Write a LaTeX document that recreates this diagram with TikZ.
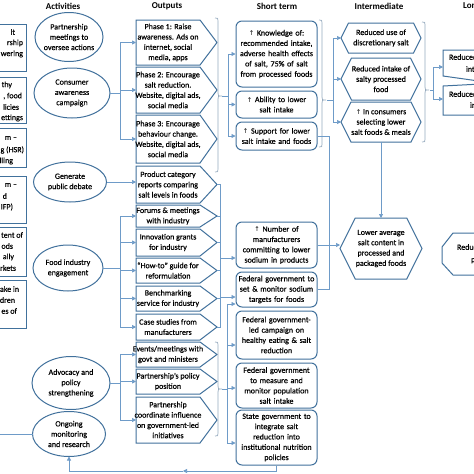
\documentclass[tikz,border=0pt]{standalone}
\usepackage{fontspec}
\setmainfont{Carlito}
\newfontfamily\bodyfam{Carlito}[FakeBold=0.4]
\newfontfamily\symf{DejaVu Sans}
\usetikzlibrary{arrows.meta}
\definecolor{boxc}{RGB}{65,113,156}
\definecolor{linec}{RGB}{110,155,200}
\definecolor{bracec}{RGB}{150,170,190}
\newcommand\bodyf{\bodyfam\fontsize{8}{10.3}\selectfont}
\newcommand\upa{{\symf\fontsize{6.5}{8}\selectfont ↑}}
\tikzset{
  frm/.style={draw=none, rectangle, inner sep=0pt, outer sep=0pt},
  txt/.style={inner sep=0pt, outer sep=0pt, align=center, font=\bodyf, text=black},
  box/.style={draw=boxc, line width=1pt, fill=white},
  conn/.style={draw=linec, line width=0.7pt},
  arr/.style={conn, -{Triangle[length=4pt,width=4pt]}},
  brc/.style={draw=bracec, line width=0.7pt},
  rbox/.style={draw=boxc, line width=1pt, fill=white, rounded corners=6pt, rectangle,
    minimum width=81, inner xsep=1pt, inner ysep=0pt, text width=79, align=center, font=\bodyf},
  hdr/.style={inner sep=0pt, font=\fontsize{9}{11}\selectfont\bfseries}
}
\newcommand\actnode[6]{%
  \node[frm, minimum width={2*#4}, minimum height={2*#5}] (#1) at (#2,#3) {};
  \draw[box] (#1.center) ellipse [x radius=#4pt, y radius=#5pt];
  \node[txt] (#1t) at (#1.center) {#6};}
\newcommand\outp[4]{%
  \node[frm, minimum width=81, minimum height={#3-#2}] (#1) at (176.5,{(#2+#3)/2}) {};
  \draw[box] (#1.north west) -- ([xshift=-17]#1.north east) -- (#1.east) -- ([xshift=-17]#1.south east) -- (#1.south west) -- cycle;
  \node[txt] (#1t) at ([xshift=-8.5]#1.center) {#4};}
\newcommand\hexnode[6]{%
  \node[frm, minimum width=#5, minimum height={#4-#3}] (#1) at (#2,{(#3+#4)/2}) {};
  \pgfmathsetmacro\hexd{(#4-#3)/4}
  \draw[box] (#1.west) -- ([xshift=\hexd]#1.north west) -- ([xshift=-\hexd]#1.north east) -- (#1.east) -- ([xshift=-\hexd]#1.south east) -- ([xshift=\hexd]#1.south west) -- cycle;
  \node[txt] (#1t) at (#1.center) {#6};}
\newcommand\bracepath[4]{%
  \draw[brc] (#1-3,#2) .. controls (#1,#2) .. (#1,#2+3) -- (#1,#3-3) .. controls (#1,#3) .. (#1+4,#3)
    .. controls (#1,#3) .. (#1,#3+3) -- (#1,#4-3) .. controls (#1,#4) .. (#1-3,#4);}
\begin{document}
\begin{tikzpicture}[x=1pt,y=-1pt]
\useasboundingbox (0,0) rectangle (474,474);
\clip (0,0) rectangle (474,474);
\fill[white] (0,0) rectangle (474,474);

% headings
\node[hdr] (h1) at (63,6) {Activities};
\node[hdr] (h2) at (167,6) {Outputs};
\node[hdr] (h3) at (277,6) {Short term};
\node[hdr] (h4) at (379,6) {Intermediate};
\node[hdr, anchor=west] (h5) at (463,6) {Long term};

% left column (clipped)
\draw[box] (-30,24) rectangle (26,71);
\draw[box] (-30,77) rectangle (26,123);
\draw[box] (-30,128) rectangle (26,167);
\draw[box] (-30,176) rectangle (26,223);
\draw[box] (-30,227) rectangle (26,276);
\draw[box] (-30,280) rectangle (26,328);
\node[txt, anchor=east] (la1) at (15,32) {lt};
\node[txt, anchor=east] (la2) at (23,43) {rship};
\node[txt, anchor=east] (la3) at (23,54) {wering};
\node[txt, anchor=east] (lb1) at (12,85) {thy};
\node[txt, anchor=east] (lb2) at (22,96) {, food};
\node[txt, anchor=east] (lb3) at (19,107) {licies};
\node[txt, anchor=east] (lb4) at (23,118) {ettings};
\node[txt, anchor=east] (lc1) at (17,138) {m –};
\node[txt, anchor=east] (lc2) at (24,150) {g (HSR)};
\node[txt, anchor=east] (lc3) at (13,161) {lling};
\node[txt, anchor=east] (ld1) at (17,185) {m –};
\node[txt, anchor=east] (ld2) at (7,196) {d};
\node[txt, anchor=east] (ld3) at (13,207) {IFP)};
\node[txt, anchor=east] (le1) at (23,235) {tent of};
\node[txt, anchor=east] (le2) at (13,246) {ods};
\node[txt, anchor=east] (le3) at (14,257) {ally};
\node[txt, anchor=east] (le4) at (16,268) {rkets};
\node[txt, anchor=east] (lf1) at (19,289) {ake in};
\node[txt, anchor=east] (lf2) at (15,300) {dren};
\node[txt, anchor=east] (lf3) at (17,311) {es of};

% activities
\actnode{e1}{69}{37}{34}{24.5}{Partnership\\meetings to\\oversee actions}
\actnode{e2}{72}{93}{38}{25}{Consumer\\awareness\\campaign}
\actnode{e3}{70}{182}{36.5}{20}{Generate\\public debate}
\actnode{e4}{68}{268}{35}{23}{Food industry\\engagement}
\actnode{e5}{71}{383}{39}{26.5}{Advocacy and\\policy\\strengthening}
\actnode{e6}{69}{434}{36.5}{22.5}{Ongoing\\monitoring\\and research}

% outputs
\outp{o1}{20}{65}{Phase 1: Raise\\awareness. Ads on\\internet, social\\media, apps}
\outp{o2}{67}{113}{Phase 2: Encourage\\salt reduction.\\Website, digital ads,\\social media}
\outp{o3}{115}{163}{Phase 3: Encourage\\behaviour change.\\Website, digital ads,\\social media}
\outp{o4}{166}{203}{Product category\\reports comparing\\salt levels in foods}
\outp{o5}{205}{227}{Forums \& meetings\\with industry}
\outp{o6}{229}{256}{Innovation grants\\for industry}
\outp{o7}{258}{283}{“How-to” guide for\\reformulation}
\outp{o8}{286}{311}{Benchmarking\\service for industry}
\outp{o9}{314}{340}{Case studies from\\manufacturers}
\outp{o10}{342}{367}{Events/meetings with\\govt and ministers}
\outp{o11}{369}{394}{Partnership’s policy\\position}
\outp{o12}{397}{443}{Partnership\\coordinate influence\\on government-led\\initiatives}

% short term
\node[rbox, minimum height=66] (s1) at (276.5,54) {\upa{} Knowledge of:\\recommended intake,\\adverse health effects\\of salt, 75\% of salt\\from processed foods};
\node[rbox, minimum height=27] (s2) at (276.5,104.5) {\upa{} Ability to lower\\salt intake};
\node[rbox, minimum height=28] (s3) at (276.5,136) {\upa{} Support for lower\\salt intake and foods};
\node[rbox, minimum height=46] (s4) at (276.5,245) {\upa{} Number of\\manufacturers\\committing to lower\\sodium in products};
\node[rbox, minimum height=35] (s5) at (276.5,289.5) {Federal government to\\set \& monitor sodium\\targets for foods};
\node[rbox, minimum height=48] (s6) at (276.5,335) {Federal government-\\led campaign on\\healthy eating \& salt\\reduction};
\node[rbox, minimum height=45] (s7) at (276.5,385.5) {Federal government\\to measure and\\monitor population\\salt intake};
\node[rbox, minimum height=55] (s8) at (276.5,437.5) {State government to\\integrate salt\\reduction into\\institutional nutrition\\policies};

% intermediate
\hexnode{i1}{381}{23}{53}{80}{Reduced use of\\discretionary salt}
\hexnode{i2}{381}{58}{100}{80}{Reduced intake of\\salty processed\\food}
\hexnode{i3}{381}{102}{142}{80}{\upa{} In consumers\\selecting lower\\salt foods \& meals}
\hexnode{low}{381}{218}{279}{82}{Lower average\\salt content in\\processed and\\packaged foods}

% long term (clipped)
\node[frm, minimum width=57, minimum height=34, anchor=north west] (l1) at (443,50) {};
\draw[box] (l1.north west) -- (l1.north east) -- (l1.south east) -- ([yshift=8]l1.south west) -- cycle;
\node[txt, anchor=west] (l1a) at (449,57) {Reduced salt};
\node[txt, anchor=west] (l1b) at (466,69) {intake};
\node[frm, minimum width=57, minimum height=32, anchor=north west] (l2) at (443,83) {};
\draw[box] ([yshift=-3]l2.north west) -- (l2.north east) -- (l2.south east) -- (l2.south west) -- cycle;
\node[txt, anchor=west] (l2a) at (449,94) {Reduced salt};
\node[txt, anchor=west] (l2b) at (470,105) {intake};
\node[frm, minimum width=58, minimum height=42, anchor=north west] (r1) at (442,233) {};
\draw[box] ([yshift=-14]r1.north west) -- ([xshift=11]r1.north west) -- (r1.north east) -- (r1.south east) -- ([xshift=11]r1.south west) -- ([yshift=12]r1.south west) -- cycle;
\node[txt, anchor=west] (r1a) at (457,247) {Reduced};
\node[txt, anchor=west] (r1b) at (471,260) {population};

% activities -> outputs
\coordinate (j1) at (120,93);
\draw[conn] (e2.east) -- (j1);
\draw[arr] (j1) |- (o1.west);
\draw[arr] (j1) |- (o2.west);
\draw[arr] (j1) |- (o3.west);
\draw[arr] (e3.east) -- (e3.east -| o4.west);
\coordinate (j2) at (120,268);
\draw[conn] (e4.east) -- (j2);
\draw[arr] (j2) |- (o5.west);
\draw[arr] (j2) |- (o6.west);
\draw[arr] (j2) |- (o7.west);
\draw[arr] (j2) |- (o8.west);
\draw[arr] (j2) |- (o9.west);
\coordinate (j3) at (120,383);
\draw[conn] (e5.east) -- (j3);
\draw[arr] (j3) |- (o10.west);
\draw[arr] (j3) |- (o11.west);
\draw[arr] (j3) |- (o12.west);

% outputs -> short term
\bracepath{218}{18}{96}{172}
\coordinate (b1) at (222,96);
\coordinate (k1) at (228,96);
\draw[conn] (b1) -- (k1);
\draw[arr] (k1) |- (s1.west);
\draw[arr] (k1) |- (s2.west);
\draw[arr] (k1) |- (s3.west);

\coordinate (q4) at ([xshift=3]o4.east);
\coordinate (q9) at ([xshift=3]o9.east);
\draw[conn] (o4.east) -- (q4) -- (q9) -- (o9.east);
\draw[conn] (o5.east) -- (o5.east -| q4);
\draw[conn] (o6.east) -- (o6.east -| q4);
\draw[conn] (o7.east) -- (o7.east -| q4);
\draw[conn] (o8.east) -- (o8.east -| q4);
\coordinate (q45) at (220,258);
\coordinate (q5) at (220,297);
\draw[arr] (q45) -- (q45 -| s4.west);
\draw[arr] (q5) -- (q5 -| s5.west);

\bracepath{218}{342}{389}{436}
\coordinate (b4) at (222,389);
\coordinate (k3) at (227,389);
\draw[conn] (b4) -- (k3);
\coordinate (k3t) at (227,304);
\coordinate (k3m) at (227,345);
\coordinate (k3n) at (227,388);
\coordinate (k3b) at (227,443);
\draw[conn] (k3t) -- (k3b);
\draw[arr] (k3t) -- (k3t -| s5.west);
\draw[arr] (k3m) -- (k3m -| s6.west);
\draw[arr] (k3n) -- (k3n -| s7.west);
\draw[arr] (k3b) -- (k3b -| s8.west);

% short term -> intermediate
\bracepath{322}{20}{100}{147}
\coordinate (b2) at (327,100);
\coordinate (k2) at (333,100);
\draw[conn] (b2) -- (k2);
\draw[arr] (k2) |- (i1.west);
\draw[arr] (k2) |- (i2.west);
\draw[arr] (k2) |- (i3.west);
\draw[conn] (s3.east) -- ++(12,0) coordinate (k4) -- (k4 |- s5.east) -- (s5.east);
\draw[arr] (s4.east) -- (s4.east -| low.west);
\draw[arr] (i3.south) -- (low.north);

% intermediate -> long term
\bracepath{425}{22}{90}{142}
\coordinate (b3) at (430,90);
\coordinate (k5) at (433,90);
\draw[conn] (b3) -- (k5);
\draw[arr] (k5) |- (l1.west);
\draw[arr] (k5) |- (l2.west);

% feedback loop
\coordinate (bt1) at (276.5,471);
\coordinate (bm) at (183,471);
\draw[arr] (s8.south) -- (bt1) -- (bm);
\draw[arr] (bm) -| (e6.south);
\coordinate (lf) at (-5,434);
\draw[conn] (lf) -- (e6.west);
\end{tikzpicture}
\end{document}
